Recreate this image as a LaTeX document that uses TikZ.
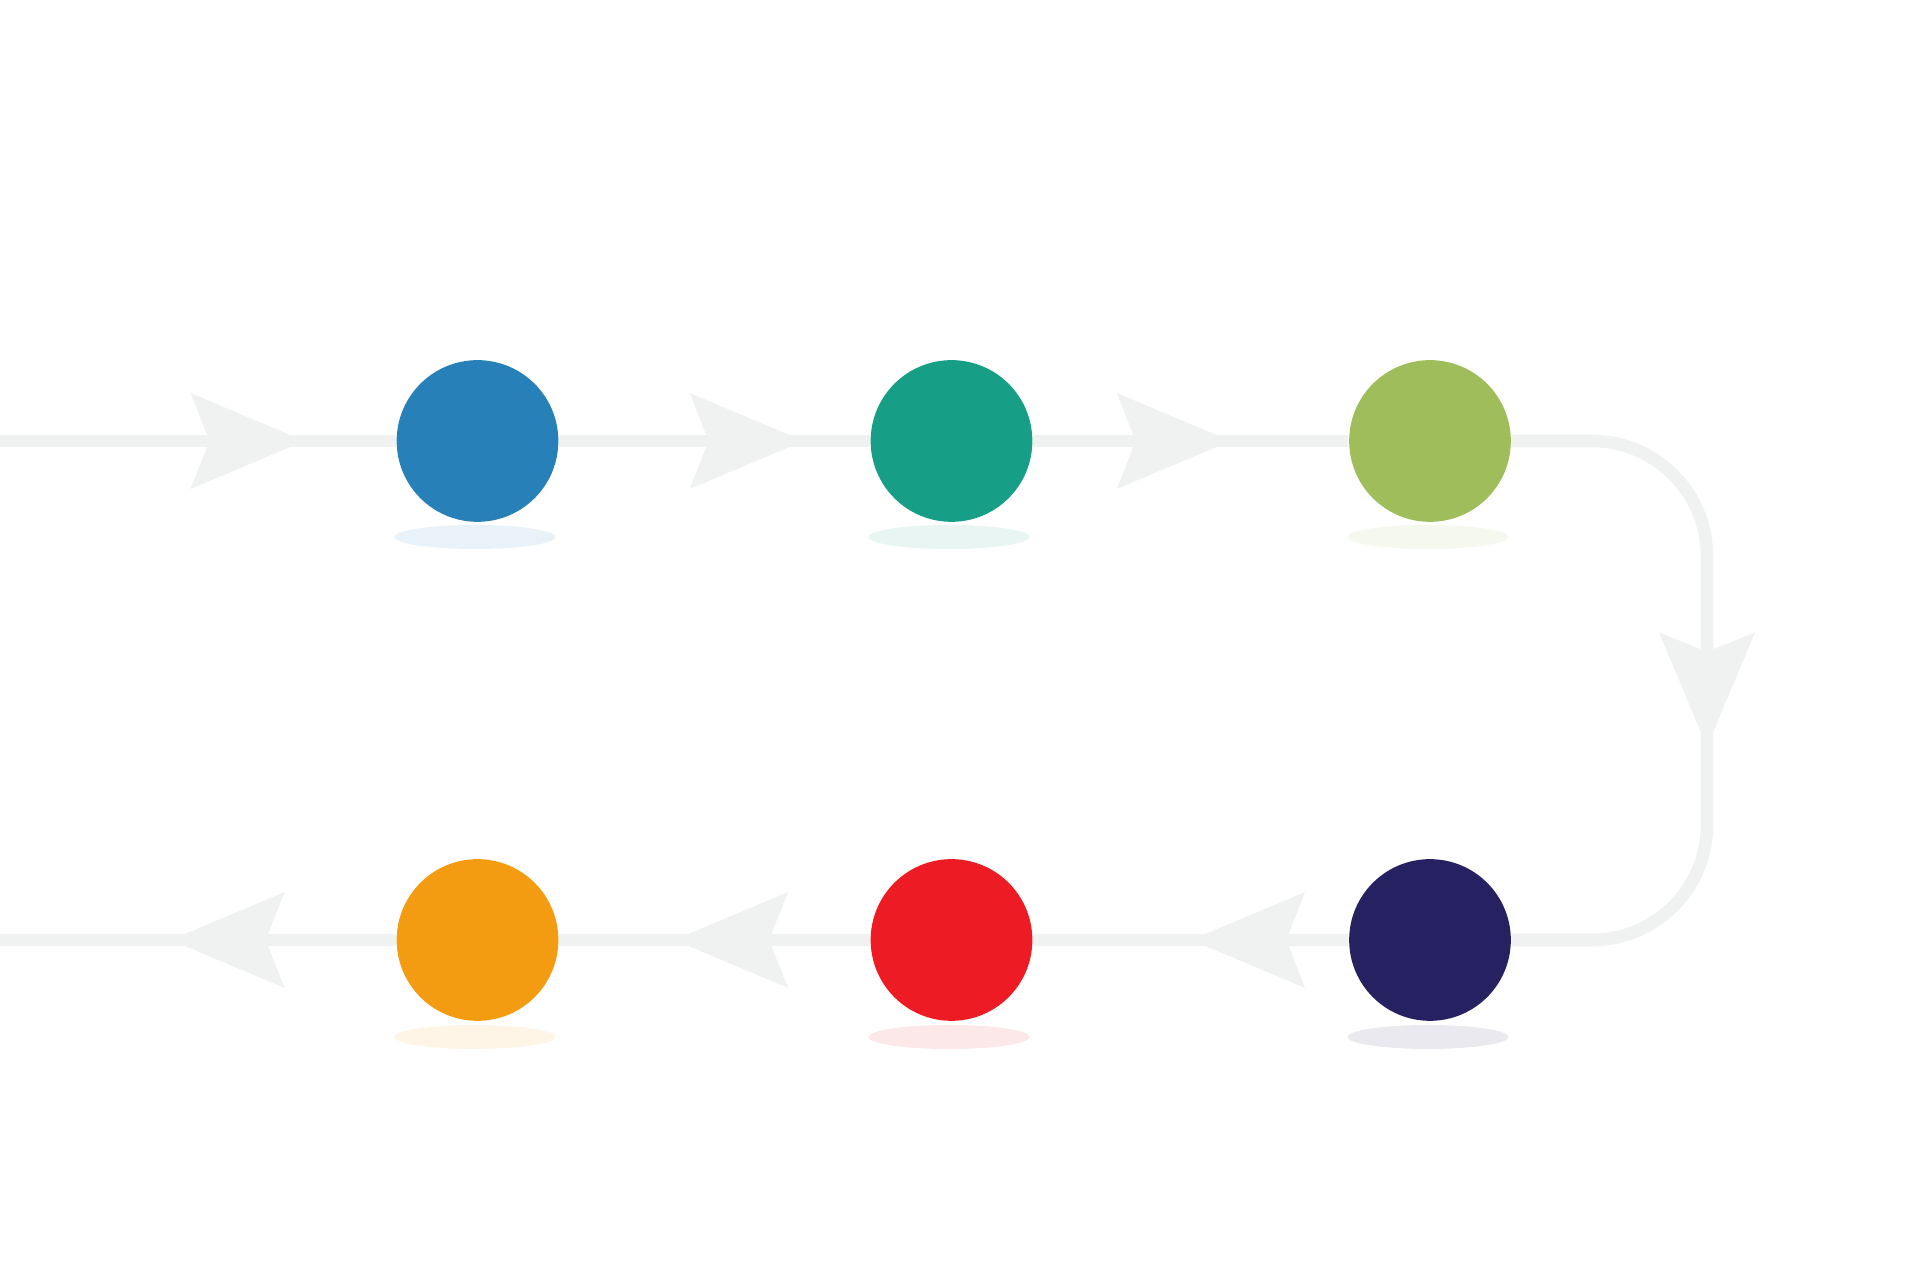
\documentclass[tikz,border=0pt]{standalone}
\usepackage{tikz}
\usetikzlibrary{arrows.meta,decorations.markings}
\definecolor{stepBlue}{RGB}{40,128,185}
\definecolor{stepTeal}{RGB}{23,158,135}
\definecolor{stepGreen}{RGB}{159,190,91}
\definecolor{stepNavy}{RGB}{38,34,98}
\definecolor{stepRed}{RGB}{237,28,36}
\definecolor{stepOrange}{RGB}{243,156,18}
\definecolor{trackGray}{RGB}{240,242,241}

\begin{document}
\begin{tikzpicture}[x=0.01cm,y=-0.01cm,
  ball/.style={circle,fill=#1,minimum size=1.616cm,inner sep=0pt},
  halo/.style={fill=#1!10},
  track/.style={draw=trackGray,line width=0.127cm},
  tipat/.style={postaction={decorate},decoration={markings,mark=at position #1 with {\arrow{Stealth[length=1.14cm,width=0.96cm,inset=0.19cm,line width=0pt]}}}}]
\useasboundingbox (0,0) rectangle (1920,1280);
% soft shadows under the dots
\fill[halo=stepBlue] (475,537) ellipse [x radius=0.805cm,y radius=0.12cm];
\fill[halo=stepTeal] (949,537) ellipse [x radius=0.805cm,y radius=0.12cm];
\fill[halo=stepGreen] (1428,537) ellipse [x radius=0.805cm,y radius=0.12cm];
\fill[halo=stepNavy] (1428,1037) ellipse [x radius=0.805cm,y radius=0.12cm];
\fill[halo=stepRed] (949,1037) ellipse [x radius=0.805cm,y radius=0.12cm];
\fill[halo=stepOrange] (475,1037) ellipse [x radius=0.805cm,y radius=0.12cm];
\node[ball=stepBlue] (c1) at (477.5,441) {};
\node[ball=stepTeal] (c2) at (951.5,441) {};
\node[ball=stepGreen] (c3) at (1430,441) {};
\node[ball=stepNavy] (c4) at (1430,940) {};
\node[ball=stepRed] (c5) at (951.5,940) {};
\node[ball=stepOrange] (c6) at (477.5,940) {};
\coordinate (inL) at (0,441);
\coordinate (outL) at (0,940);
\coordinate (bendA) at (1707,441);
\coordinate (bendB) at (1707,940);
% top row, left to right
\draw[track,tipat=0.769] (inL) -- (c1);
\draw[track,tipat=0.787] (c1) -- (c2);
\draw[track,tipat=0.627] (c2) -- (c3);
% turn on the right
\draw[track,rounded corners=1.15cm,tipat=0.571] (c3) -- (bendA) -- (bendB) -- (c4);
% bottom row, right to left
\draw[track,tipat=0.499] (c4) -- (c5);
\draw[track,tipat=0.630] (c5) -- (c6);
\draw[track,tipat=0.569] (c6) -- (outL);
\end{tikzpicture}
\end{document}
